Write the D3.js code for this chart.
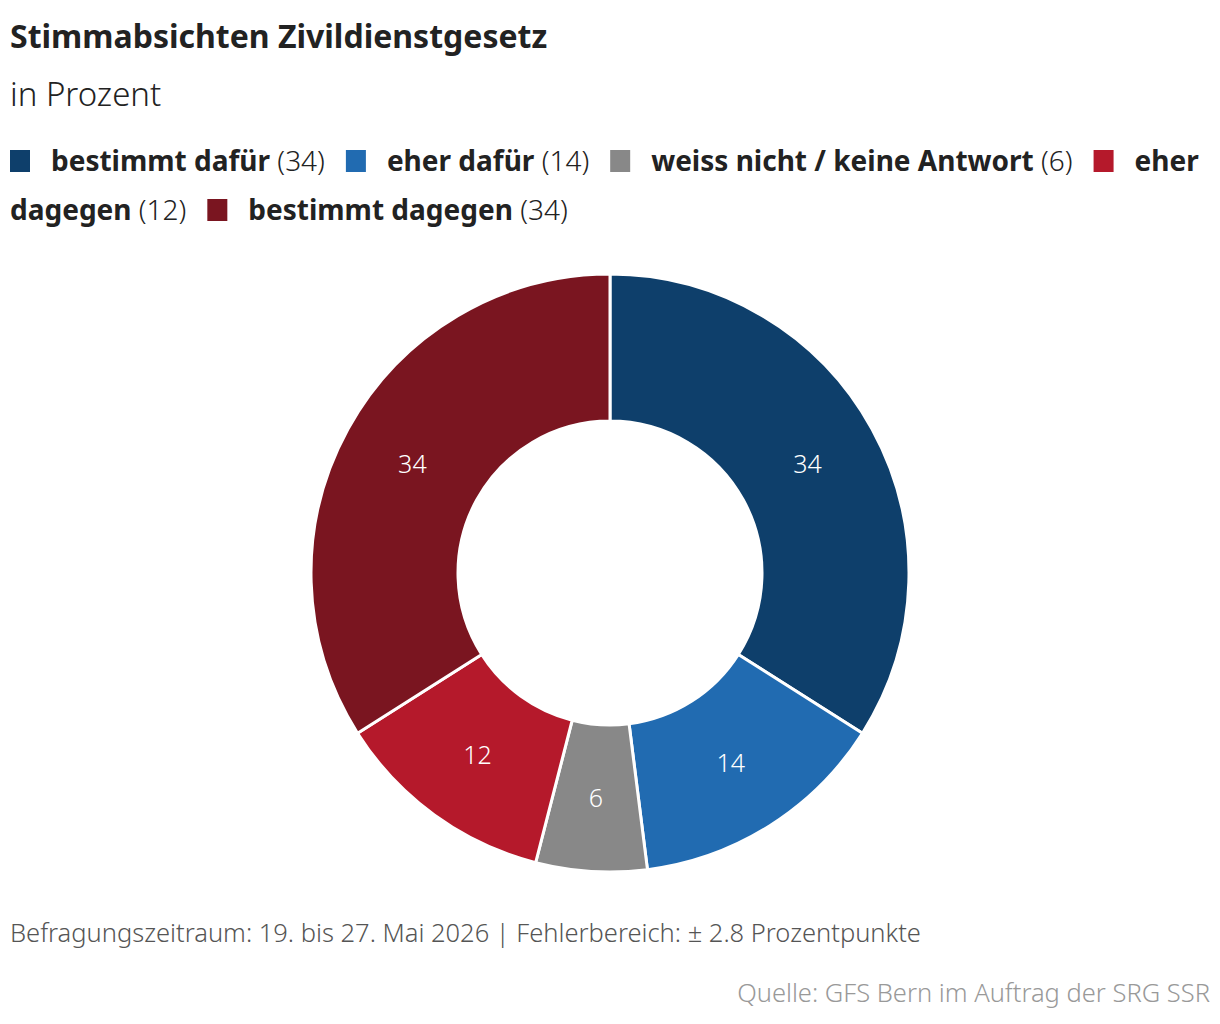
<!DOCTYPE html>
<html><head><meta charset="utf-8">
<script src="https://cdn.jsdelivr.net/npm/d3@7"></script>
<style>
body{margin:0;background:#fff;}
svg text{font-family:"Noto Sans",sans-serif;}
</style></head>
<body><svg id="chart" width="1220" height="1024"></svg>
<script>
const categories = ["bestimmt dafür","eher dafür","weiss nicht / keine Antwort","eher dagegen","bestimmt dagegen"];
const values = [34,14,6,12,34];
const colors = ["#0e3f6b","#216bb1","#888888","#b5192b","#7a1520"];
const title = "Stimmabsichten Zivildienstgesetz";
const subtitle = "in Prozent";
const footnote = "Befragungszeitraum: 19. bis 27. Mai 2026 | Fehlerbereich: ± 2.8 Prozentpunkte";
const source = "Quelle: GFS Bern im Auftrag der SRG SSR";

const svg = d3.select("#chart");
svg.append("text").attr("x",10).attr("y",48).attr("font-size",32).attr("font-weight",700).attr("fill","#222").text(title);
svg.append("text").attr("x",10).attr("y",106).attr("font-size",33).attr("font-weight",300).attr("fill","#222").text(subtitle);

// legend with word wrapping
const legendFont = 28, maxX = 1212, rowH = 49;
let x = 10, y = 171;
const lg = svg.append("g");
function measure(txt, weight){
  const t = lg.append("text").attr("font-size",legendFont).attr("font-weight",weight).text(txt);
  const w = t.node().getComputedTextLength(); t.remove(); return w;
}
const spaceW = measure("a a",400) - measure("aa",400);
categories.forEach((c,i)=>{
  const sw = 20, gapAfterSw = 21;
  if (x + sw + gapAfterSw + measure(c.split(" ")[0],700) > maxX){ x = 10; y += rowH; }
  lg.append("rect").attr("x",x).attr("y",y-21).attr("width",sw).attr("height",22).attr("fill",colors[i]);
  x += sw + gapAfterSw;
  const words = c.split(" ").map(w=>({t:w,b:700}));
  words.push({t:"("+values[i]+")",b:300});
  words.forEach((w,j)=>{
    const ww = measure(w.t,w.b);
    if (x + ww > maxX){ x = 10; y += rowH; }
    lg.append("text").attr("x",x).attr("y",y).attr("font-size",legendFont).attr("font-weight",w.b).attr("fill","#222").text(w.t);
    x += ww + (j<words.length-1 ? spaceW : 0);
  });
  x += 21;
});

// donut
const cx = 610, cy = 573, rO = 299, rI = 152;
const pie = d3.pie().sort(null).value(d=>d.v);
const arcs = pie(values.map((v,i)=>({v,i})));
const arc = d3.arc().innerRadius(rI).outerRadius(rO);
const g = svg.append("g").attr("transform",`translate(${cx},${cy})`);
g.selectAll("path").data(arcs).join("path").attr("d",arc).attr("fill",d=>colors[d.data.i]).attr("stroke","#fff").attr("stroke-width",3);
g.selectAll("text.lab").data(arcs).join("text").attr("class","lab")
  .attr("transform",d=>`translate(${arc.centroid(d)})`).attr("text-anchor","middle").attr("dy","0.36em")
  .attr("font-size",25).attr("font-weight",300).attr("fill","#fff").text(d=>d.data.v);

svg.append("text").attr("x",10).attr("y",942).attr("font-size",25.5).attr("font-weight",300).attr("fill","#555").text(footnote);
svg.append("text").attr("x",1210).attr("y",1002).attr("text-anchor","end").attr("font-size",25.5).attr("font-weight",300).attr("fill","#999").text(source);
</script></body></html>
